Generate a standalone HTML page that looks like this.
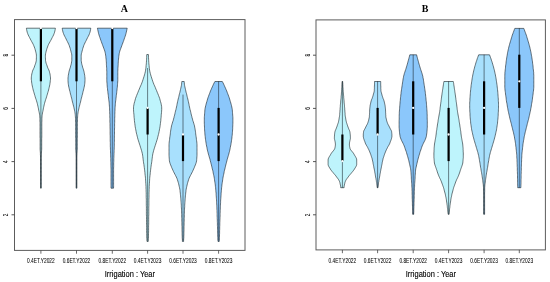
<!DOCTYPE html>
<html><head><meta charset="utf-8"><title>Violin plots</title>
<style>
html,body{margin:0;padding:0;background:#fff;}
svg{display:block;}
.tk{font-family:"Liberation Sans",sans-serif;font-size:6.6px;fill:#000;stroke:#000;stroke-width:0.05px;}
.ax{font-family:"Liberation Sans",sans-serif;font-size:8.3px;fill:#000;stroke:#000;stroke-width:0.12px;}
.ti{font-family:"Liberation Serif",serif;font-weight:bold;font-size:10px;fill:#000;}
</style></head><body>
<svg width="550" height="282" viewBox="0 0 550 282">
<rect width="550" height="282" fill="#fff"/>
<rect x="14.5" y="19.6" width="230.5" height="230.8" fill="#fff" stroke="#5c5c5c" stroke-width="1"/>
<path d="M55.4,28.2 L55.2,29.5 L54.9,30.9 L54.6,32.2 L54.1,33.6 L53.6,34.9 L52.9,36.3 L52.2,37.6 L51.5,39.0 L50.8,40.3 L50.1,41.6 L49.3,43.0 L48.6,44.3 L48.0,45.7 L47.5,47.0 L47.0,48.4 L46.6,49.7 L46.2,51.1 L45.9,52.4 L45.6,53.7 L45.4,55.1 L45.4,56.4 L45.4,57.8 L45.5,59.1 L45.5,60.5 L45.8,61.8 L46.1,63.2 L46.6,64.5 L47.1,65.8 L47.5,67.2 L48.1,68.5 L48.8,69.9 L49.3,71.2 L49.6,72.6 L50.0,73.9 L50.2,75.3 L50.4,76.6 L50.5,77.9 L50.5,79.3 L50.3,80.6 L50.2,82.0 L50.0,83.3 L49.8,84.7 L49.5,86.0 L49.2,87.4 L48.9,88.7 L48.6,90.0 L48.2,91.4 L47.8,92.7 L47.4,94.1 L47.0,95.4 L46.6,96.8 L46.2,98.1 L45.7,99.5 L45.3,100.8 L44.9,102.1 L44.5,103.5 L44.2,104.8 L43.9,106.2 L43.6,107.5 L43.3,108.9 L43.1,110.2 L42.8,111.6 L42.5,112.9 L42.3,114.3 L42.1,115.6 L42.0,116.9 L41.9,118.3 L41.9,119.6 L41.9,121.0 L41.8,122.3 L41.8,123.7 L41.8,125.0 L41.8,126.4 L41.8,127.7 L41.8,129.0 L41.8,130.4 L41.8,131.7 L41.8,133.1 L41.8,134.4 L41.8,135.8 L41.8,137.1 L41.7,138.5 L41.7,139.8 L41.7,141.1 L41.7,142.5 L41.7,143.8 L41.7,145.2 L41.7,146.5 L41.7,147.9 L41.7,149.2 L41.6,150.6 L41.5,151.9 L41.4,153.2 L41.4,154.6 L41.3,155.9 L41.3,157.3 L41.3,158.6 L41.3,160.0 L41.3,161.3 L41.3,162.7 L41.3,164.0 L41.3,165.3 L41.3,166.7 L41.3,168.0 L41.3,169.4 L41.3,170.7 L41.3,172.1 L41.3,173.4 L41.3,174.8 L41.3,176.1 L41.3,177.4 L41.3,178.8 L41.3,180.1 L41.3,181.5 L41.3,182.8 L41.3,184.2 L41.3,185.5 L41.3,186.9 L41.3,188.2 L40.5,188.2 L40.5,186.9 L40.5,185.5 L40.5,184.2 L40.5,182.8 L40.5,181.5 L40.5,180.1 L40.5,178.8 L40.5,177.4 L40.5,176.1 L40.5,174.8 L40.5,173.4 L40.5,172.1 L40.5,170.7 L40.5,169.4 L40.5,168.0 L40.5,166.7 L40.5,165.3 L40.5,164.0 L40.5,162.7 L40.5,161.3 L40.5,160.0 L40.5,158.6 L40.5,157.3 L40.5,155.9 L40.4,154.6 L40.4,153.2 L40.3,151.9 L40.2,150.6 L40.1,149.2 L40.1,147.9 L40.1,146.5 L40.1,145.2 L40.1,143.8 L40.1,142.5 L40.1,141.1 L40.1,139.8 L40.1,138.5 L40.0,137.1 L40.0,135.8 L40.0,134.4 L40.0,133.1 L40.0,131.7 L40.0,130.4 L40.0,129.0 L40.0,127.7 L40.0,126.4 L40.0,125.0 L40.0,123.7 L40.0,122.3 L39.9,121.0 L39.9,119.6 L39.9,118.3 L39.8,116.9 L39.7,115.6 L39.5,114.3 L39.3,112.9 L39.0,111.6 L38.7,110.2 L38.5,108.9 L38.2,107.5 L37.9,106.2 L37.6,104.8 L37.3,103.5 L36.9,102.1 L36.5,100.8 L36.1,99.5 L35.6,98.1 L35.2,96.8 L34.8,95.4 L34.4,94.1 L34.0,92.7 L33.6,91.4 L33.2,90.0 L32.9,88.7 L32.6,87.4 L32.3,86.0 L32.0,84.7 L31.8,83.3 L31.6,82.0 L31.5,80.6 L31.3,79.3 L31.3,77.9 L31.4,76.6 L31.6,75.3 L31.8,73.9 L32.2,72.6 L32.5,71.2 L33.0,69.9 L33.7,68.5 L34.3,67.2 L34.7,65.8 L35.2,64.5 L35.7,63.2 L36.0,61.8 L36.3,60.5 L36.3,59.1 L36.4,57.8 L36.4,56.4 L36.4,55.1 L36.2,53.7 L35.9,52.4 L35.6,51.1 L35.2,49.7 L34.8,48.4 L34.3,47.0 L33.8,45.7 L33.2,44.3 L32.5,43.0 L31.7,41.6 L31.0,40.3 L30.3,39.0 L29.6,37.6 L28.9,36.3 L28.2,34.9 L27.7,33.6 L27.2,32.2 L26.9,30.9 L26.6,29.5 L26.4,28.2Z" fill="#BEF4FC" stroke="#141c22" stroke-width="0.6" stroke-linejoin="round"/>
<line x1="40.9" x2="40.9" y1="28.1" y2="187.7" stroke="#141c22" stroke-width="0.55"/>
<rect x="39.80" y="28.1" width="2.2" height="53.2" fill="#000"/>
<circle cx="40.9" cy="28.1" r="1.15" fill="#fff"/>
<path d="M90.8,28.2 L90.6,29.5 L90.3,30.9 L90.0,32.2 L89.5,33.6 L89.0,34.9 L88.3,36.3 L87.6,37.6 L86.9,39.0 L86.3,40.3 L85.6,41.6 L84.9,43.0 L84.3,44.3 L83.7,45.7 L83.3,47.0 L82.8,48.4 L82.5,49.7 L82.1,51.1 L81.8,52.4 L81.4,53.7 L81.2,55.1 L81.2,56.4 L81.2,57.8 L81.2,59.1 L81.2,60.5 L81.4,61.8 L81.6,63.2 L81.9,64.5 L82.3,65.8 L82.6,67.2 L83.1,68.5 L83.5,69.9 L83.9,71.2 L84.2,72.6 L84.4,73.9 L84.7,75.3 L84.8,76.6 L85.0,77.9 L85.0,79.3 L85.0,80.6 L84.9,82.0 L84.8,83.3 L84.6,84.7 L84.4,86.0 L84.1,87.4 L83.8,88.7 L83.5,90.0 L83.1,91.4 L82.8,92.7 L82.5,94.1 L82.1,95.4 L81.8,96.8 L81.4,98.1 L81.1,99.5 L80.8,100.8 L80.5,102.1 L80.1,103.5 L79.8,104.8 L79.4,106.2 L79.1,107.5 L78.8,108.9 L78.5,110.2 L78.2,111.6 L78.0,112.9 L77.8,114.3 L77.7,115.6 L77.6,116.9 L77.5,118.3 L77.5,119.6 L77.5,121.0 L77.4,122.3 L77.4,123.7 L77.4,125.0 L77.4,126.4 L77.4,127.7 L77.4,129.0 L77.4,130.4 L77.4,131.7 L77.4,133.1 L77.4,134.4 L77.4,135.8 L77.4,137.1 L77.3,138.5 L77.3,139.8 L77.3,141.1 L77.3,142.5 L77.3,143.8 L77.3,145.2 L77.3,146.5 L77.3,147.9 L77.3,149.2 L77.2,150.6 L77.1,151.9 L77.0,153.2 L77.0,154.6 L76.9,155.9 L76.9,157.3 L76.9,158.6 L76.9,160.0 L76.9,161.3 L76.9,162.7 L76.9,164.0 L76.9,165.3 L76.9,166.7 L76.9,168.0 L76.9,169.4 L76.9,170.7 L76.9,172.1 L76.9,173.4 L76.9,174.8 L76.9,176.1 L76.9,177.4 L76.9,178.8 L76.9,180.1 L76.9,181.5 L76.9,182.8 L76.9,184.2 L76.9,185.5 L76.9,186.9 L76.9,188.2 L76.1,188.2 L76.1,186.9 L76.1,185.5 L76.1,184.2 L76.1,182.8 L76.1,181.5 L76.1,180.1 L76.1,178.8 L76.1,177.4 L76.1,176.1 L76.1,174.8 L76.1,173.4 L76.1,172.1 L76.1,170.7 L76.1,169.4 L76.1,168.0 L76.1,166.7 L76.1,165.3 L76.1,164.0 L76.1,162.7 L76.1,161.3 L76.1,160.0 L76.1,158.6 L76.1,157.3 L76.1,155.9 L76.0,154.6 L76.0,153.2 L75.9,151.9 L75.8,150.6 L75.7,149.2 L75.7,147.9 L75.7,146.5 L75.7,145.2 L75.7,143.8 L75.7,142.5 L75.7,141.1 L75.7,139.8 L75.7,138.5 L75.6,137.1 L75.6,135.8 L75.6,134.4 L75.6,133.1 L75.6,131.7 L75.6,130.4 L75.6,129.0 L75.6,127.7 L75.6,126.4 L75.6,125.0 L75.6,123.7 L75.6,122.3 L75.5,121.0 L75.5,119.6 L75.5,118.3 L75.4,116.9 L75.3,115.6 L75.2,114.3 L75.0,112.9 L74.8,111.6 L74.5,110.2 L74.2,108.9 L73.9,107.5 L73.6,106.2 L73.2,104.8 L72.9,103.5 L72.5,102.1 L72.2,100.8 L71.9,99.5 L71.6,98.1 L71.2,96.8 L70.9,95.4 L70.5,94.1 L70.2,92.7 L69.9,91.4 L69.5,90.0 L69.2,88.7 L68.9,87.4 L68.6,86.0 L68.4,84.7 L68.2,83.3 L68.1,82.0 L68.0,80.6 L68.0,79.3 L68.0,77.9 L68.2,76.6 L68.3,75.3 L68.6,73.9 L68.8,72.6 L69.1,71.2 L69.5,69.9 L69.9,68.5 L70.4,67.2 L70.7,65.8 L71.1,64.5 L71.4,63.2 L71.6,61.8 L71.8,60.5 L71.8,59.1 L71.8,57.8 L71.8,56.4 L71.8,55.1 L71.6,53.7 L71.2,52.4 L70.9,51.1 L70.5,49.7 L70.2,48.4 L69.7,47.0 L69.3,45.7 L68.7,44.3 L68.1,43.0 L67.4,41.6 L66.7,40.3 L66.1,39.0 L65.4,37.6 L64.7,36.3 L64.0,34.9 L63.5,33.6 L63.0,32.2 L62.7,30.9 L62.4,29.5 L62.2,28.2Z" fill="#A8E0FD" stroke="#141c22" stroke-width="0.6" stroke-linejoin="round"/>
<line x1="76.5" x2="76.5" y1="28.1" y2="187.7" stroke="#141c22" stroke-width="0.55"/>
<rect x="75.40" y="28.1" width="2.2" height="53.2" fill="#000"/>
<circle cx="76.5" cy="28.1" r="1.15" fill="#fff"/>
<path d="M127.2,28.2 L126.9,29.5 L126.6,30.9 L126.3,32.2 L126.0,33.6 L125.6,34.9 L125.2,36.3 L124.7,37.6 L124.2,39.0 L123.8,40.3 L123.3,41.6 L122.8,43.0 L122.3,44.3 L121.8,45.7 L121.3,47.0 L120.8,48.4 L120.3,49.7 L119.8,51.1 L119.5,52.4 L119.2,53.7 L119.0,55.1 L118.8,56.4 L118.7,57.8 L118.5,59.1 L118.4,60.5 L118.3,61.8 L118.2,63.2 L118.2,64.5 L118.1,65.8 L118.0,67.2 L117.9,68.5 L117.9,69.9 L117.8,71.2 L117.8,72.6 L117.8,73.9 L117.8,75.3 L117.8,76.6 L117.8,77.9 L117.8,79.3 L117.8,80.6 L117.7,82.0 L117.6,83.3 L117.5,84.7 L117.4,86.0 L117.3,87.4 L117.1,88.7 L117.0,90.0 L116.8,91.4 L116.7,92.7 L116.5,94.1 L116.3,95.4 L116.2,96.8 L116.0,98.1 L115.9,99.5 L115.7,100.8 L115.5,102.1 L115.4,103.5 L115.3,104.8 L115.2,106.2 L115.1,107.5 L115.0,108.9 L115.0,110.2 L114.9,111.6 L114.9,112.9 L114.8,114.3 L114.8,115.6 L114.8,116.9 L114.7,118.3 L114.7,119.6 L114.7,121.0 L114.7,122.3 L114.6,123.7 L114.6,125.0 L114.6,126.4 L114.6,127.7 L114.5,129.0 L114.5,130.4 L114.5,131.7 L114.5,133.1 L114.5,134.4 L114.4,135.8 L114.4,137.1 L114.4,138.5 L114.4,139.8 L114.4,141.1 L114.3,142.5 L114.3,143.8 L114.3,145.2 L114.3,146.5 L114.2,147.9 L114.2,149.2 L114.1,150.6 L114.1,151.9 L114.0,153.2 L114.0,154.6 L113.9,155.9 L113.9,157.3 L113.8,158.6 L113.8,160.0 L113.8,161.3 L113.7,162.7 L113.7,164.0 L113.7,165.3 L113.7,166.7 L113.6,168.0 L113.6,169.4 L113.6,170.7 L113.6,172.1 L113.6,173.4 L113.6,174.8 L113.6,176.1 L113.6,177.4 L113.6,178.8 L113.6,180.1 L113.6,181.5 L113.6,182.8 L113.6,184.2 L113.6,185.5 L113.6,186.9 L113.5,188.2 L111.0,188.2 L111.0,186.9 L111.0,185.5 L111.0,184.2 L111.0,182.8 L111.0,181.5 L111.0,180.1 L111.0,178.8 L111.0,177.4 L111.0,176.1 L111.0,174.8 L111.0,173.4 L111.0,172.1 L111.0,170.7 L111.0,169.4 L111.0,168.0 L110.9,166.7 L110.9,165.3 L110.9,164.0 L110.9,162.7 L110.8,161.3 L110.8,160.0 L110.8,158.6 L110.7,157.3 L110.7,155.9 L110.6,154.6 L110.6,153.2 L110.5,151.9 L110.5,150.6 L110.4,149.2 L110.4,147.9 L110.3,146.5 L110.3,145.2 L110.3,143.8 L110.3,142.5 L110.2,141.1 L110.2,139.8 L110.2,138.5 L110.2,137.1 L110.2,135.8 L110.1,134.4 L110.1,133.1 L110.1,131.7 L110.1,130.4 L110.1,129.0 L110.0,127.7 L110.0,126.4 L110.0,125.0 L110.0,123.7 L109.9,122.3 L109.9,121.0 L109.9,119.6 L109.9,118.3 L109.8,116.9 L109.8,115.6 L109.8,114.3 L109.7,112.9 L109.7,111.6 L109.6,110.2 L109.6,108.9 L109.5,107.5 L109.4,106.2 L109.3,104.8 L109.2,103.5 L109.1,102.1 L108.9,100.8 L108.7,99.5 L108.6,98.1 L108.4,96.8 L108.3,95.4 L108.1,94.1 L107.9,92.7 L107.8,91.4 L107.6,90.0 L107.5,88.7 L107.3,87.4 L107.2,86.0 L107.1,84.7 L107.0,83.3 L106.9,82.0 L106.8,80.6 L106.8,79.3 L106.8,77.9 L106.8,76.6 L106.8,75.3 L106.8,73.9 L106.8,72.6 L106.8,71.2 L106.7,69.9 L106.7,68.5 L106.6,67.2 L106.5,65.8 L106.4,64.5 L106.4,63.2 L106.3,61.8 L106.2,60.5 L106.1,59.1 L105.9,57.8 L105.8,56.4 L105.6,55.1 L105.4,53.7 L105.1,52.4 L104.8,51.1 L104.3,49.7 L103.8,48.4 L103.3,47.0 L102.8,45.7 L102.3,44.3 L101.8,43.0 L101.3,41.6 L100.8,40.3 L100.4,39.0 L99.9,37.6 L99.4,36.3 L99.0,34.9 L98.6,33.6 L98.3,32.2 L98.0,30.9 L97.7,29.5 L97.4,28.2Z" fill="#8BC7FB" stroke="#141c22" stroke-width="0.6" stroke-linejoin="round"/>
<line x1="112.3" x2="112.3" y1="28.1" y2="187.7" stroke="#141c22" stroke-width="0.55"/>
<rect x="111.20" y="28.1" width="2.2" height="53.2" fill="#000"/>
<circle cx="112.3" cy="28.1" r="1.15" fill="#fff"/>
<path d="M148.4,54.5 L148.5,56.1 L148.5,57.6 L148.6,59.2 L148.7,60.8 L148.8,62.4 L148.9,63.9 L149.1,65.5 L149.2,67.1 L149.4,68.6 L149.6,70.2 L149.9,71.8 L150.3,73.4 L150.7,74.9 L151.2,76.5 L151.7,78.1 L152.2,79.6 L152.7,81.2 L153.3,82.8 L153.9,84.4 L154.6,85.9 L155.3,87.5 L155.9,89.1 L156.6,90.6 L157.2,92.2 L157.9,93.8 L158.5,95.4 L159.1,96.9 L159.7,98.5 L160.1,100.1 L160.5,101.6 L161.0,103.2 L161.3,104.8 L161.6,106.4 L161.7,107.9 L161.7,109.5 L161.6,111.1 L161.5,112.6 L161.3,114.2 L161.2,115.8 L161.1,117.4 L160.9,118.9 L160.8,120.5 L160.6,122.1 L160.4,123.6 L160.2,125.2 L160.0,126.8 L159.7,128.4 L159.4,129.9 L159.1,131.5 L158.8,133.1 L158.4,134.6 L158.0,136.2 L157.6,137.8 L157.2,139.4 L156.7,140.9 L156.2,142.5 L155.7,144.1 L155.2,145.6 L154.7,147.2 L154.2,148.8 L153.7,150.4 L153.3,151.9 L152.9,153.5 L152.6,155.1 L152.4,156.6 L152.2,158.2 L152.0,159.8 L151.8,161.4 L151.6,162.9 L151.3,164.5 L151.1,166.1 L150.9,167.6 L150.7,169.2 L150.5,170.8 L150.3,172.4 L150.2,173.9 L150.0,175.5 L149.8,177.1 L149.7,178.6 L149.6,180.2 L149.5,181.8 L149.4,183.4 L149.3,184.9 L149.2,186.5 L149.2,188.1 L149.1,189.6 L149.1,191.2 L149.0,192.8 L149.0,194.4 L149.0,195.9 L149.0,197.5 L148.9,199.1 L148.9,200.6 L148.9,202.2 L148.9,203.8 L148.9,205.4 L148.8,206.9 L148.8,208.5 L148.8,210.1 L148.8,211.6 L148.8,213.2 L148.8,214.8 L148.7,216.4 L148.7,217.9 L148.7,219.5 L148.7,221.1 L148.7,222.6 L148.7,224.2 L148.6,225.8 L148.6,227.4 L148.6,228.9 L148.6,230.5 L148.6,232.1 L148.5,233.6 L148.5,235.2 L148.5,236.8 L148.4,238.4 L148.3,239.9 L148.2,241.5 L147.0,241.5 L146.9,239.9 L146.8,238.4 L146.7,236.8 L146.7,235.2 L146.7,233.6 L146.6,232.1 L146.6,230.5 L146.6,228.9 L146.6,227.4 L146.6,225.8 L146.5,224.2 L146.5,222.6 L146.5,221.1 L146.5,219.5 L146.5,217.9 L146.5,216.4 L146.4,214.8 L146.4,213.2 L146.4,211.6 L146.4,210.1 L146.4,208.5 L146.4,206.9 L146.3,205.4 L146.3,203.8 L146.3,202.2 L146.3,200.6 L146.3,199.1 L146.2,197.5 L146.2,195.9 L146.2,194.4 L146.2,192.8 L146.1,191.2 L146.1,189.6 L146.0,188.1 L146.0,186.5 L145.9,184.9 L145.8,183.4 L145.7,181.8 L145.6,180.2 L145.5,178.6 L145.4,177.1 L145.2,175.5 L145.0,173.9 L144.9,172.4 L144.7,170.8 L144.5,169.2 L144.3,167.6 L144.1,166.1 L143.9,164.5 L143.6,162.9 L143.4,161.4 L143.2,159.8 L143.0,158.2 L142.8,156.6 L142.6,155.1 L142.3,153.5 L141.9,151.9 L141.5,150.4 L141.0,148.8 L140.5,147.2 L140.0,145.6 L139.5,144.1 L139.0,142.5 L138.5,140.9 L138.0,139.4 L137.6,137.8 L137.2,136.2 L136.8,134.6 L136.4,133.1 L136.1,131.5 L135.8,129.9 L135.5,128.4 L135.2,126.8 L135.0,125.2 L134.8,123.6 L134.6,122.1 L134.4,120.5 L134.3,118.9 L134.1,117.4 L134.0,115.8 L133.9,114.2 L133.7,112.6 L133.6,111.1 L133.5,109.5 L133.5,107.9 L133.6,106.4 L133.9,104.8 L134.2,103.2 L134.7,101.6 L135.1,100.1 L135.5,98.5 L136.1,96.9 L136.7,95.4 L137.3,93.8 L138.0,92.2 L138.6,90.6 L139.3,89.1 L139.9,87.5 L140.6,85.9 L141.3,84.4 L141.9,82.8 L142.5,81.2 L143.0,79.6 L143.5,78.1 L144.0,76.5 L144.5,74.9 L144.9,73.4 L145.3,71.8 L145.6,70.2 L145.8,68.6 L146.0,67.1 L146.1,65.5 L146.3,63.9 L146.4,62.4 L146.5,60.8 L146.6,59.2 L146.7,57.6 L146.7,56.1 L146.8,54.5Z" fill="#BEF4FC" stroke="#141c22" stroke-width="0.6" stroke-linejoin="round"/>
<line x1="147.6" x2="147.6" y1="68.0" y2="240.9" stroke="#141c22" stroke-width="0.55"/>
<rect x="146.50" y="107.9" width="2.2" height="26.6" fill="#000"/>
<circle cx="147.6" cy="107.9" r="1.15" fill="#fff"/>
<path d="M184.2,81.5 L184.3,82.8 L184.4,84.2 L184.6,85.5 L184.9,86.9 L185.2,88.2 L185.5,89.6 L185.8,90.9 L186.1,92.3 L186.5,93.6 L186.8,94.9 L187.1,96.3 L187.4,97.6 L187.8,99.0 L188.1,100.3 L188.4,101.7 L188.7,103.0 L189.0,104.4 L189.2,105.7 L189.5,107.0 L189.8,108.4 L190.1,109.7 L190.5,111.1 L190.8,112.4 L191.1,113.8 L191.4,115.1 L191.8,116.5 L192.1,117.8 L192.5,119.1 L192.8,120.5 L193.3,121.8 L193.7,123.2 L194.1,124.5 L194.5,125.9 L194.7,127.2 L195.0,128.6 L195.2,129.9 L195.4,131.2 L195.6,132.6 L195.7,133.9 L195.9,135.3 L196.1,136.6 L196.3,138.0 L196.4,139.3 L196.6,140.7 L196.8,142.0 L196.9,143.3 L197.0,144.7 L197.0,146.0 L197.0,147.4 L197.0,148.7 L197.0,150.1 L197.0,151.4 L197.0,152.8 L197.0,154.1 L197.0,155.4 L196.9,156.8 L196.8,158.1 L196.7,159.5 L196.6,160.8 L196.3,162.2 L195.9,163.5 L195.4,164.9 L194.8,166.2 L194.3,167.6 L193.7,168.9 L193.1,170.2 L192.5,171.6 L191.8,172.9 L191.1,174.3 L190.4,175.6 L189.7,177.0 L189.1,178.3 L188.6,179.7 L188.2,181.0 L187.8,182.3 L187.4,183.7 L187.1,185.0 L186.8,186.4 L186.5,187.7 L186.2,189.1 L186.0,190.4 L185.9,191.8 L185.7,193.1 L185.6,194.4 L185.4,195.8 L185.3,197.1 L185.2,198.5 L185.1,199.8 L185.0,201.2 L184.9,202.5 L184.8,203.9 L184.7,205.2 L184.7,206.5 L184.6,207.9 L184.5,209.2 L184.5,210.6 L184.4,211.9 L184.4,213.3 L184.3,214.6 L184.3,216.0 L184.3,217.3 L184.2,218.6 L184.2,220.0 L184.2,221.3 L184.1,222.7 L184.1,224.0 L184.1,225.4 L184.0,226.7 L184.0,228.1 L184.0,229.4 L184.0,230.7 L183.9,232.1 L183.9,233.4 L183.9,234.8 L183.8,236.1 L183.8,237.5 L183.7,238.8 L183.6,240.2 L183.6,241.5 L182.4,241.5 L182.4,240.2 L182.3,238.8 L182.2,237.5 L182.2,236.1 L182.1,234.8 L182.1,233.4 L182.1,232.1 L182.0,230.7 L182.0,229.4 L182.0,228.1 L182.0,226.7 L181.9,225.4 L181.9,224.0 L181.9,222.7 L181.8,221.3 L181.8,220.0 L181.8,218.6 L181.7,217.3 L181.7,216.0 L181.7,214.6 L181.6,213.3 L181.6,211.9 L181.5,210.6 L181.5,209.2 L181.4,207.9 L181.3,206.5 L181.3,205.2 L181.2,203.9 L181.1,202.5 L181.0,201.2 L180.9,199.8 L180.8,198.5 L180.7,197.1 L180.6,195.8 L180.4,194.4 L180.3,193.1 L180.1,191.8 L180.0,190.4 L179.8,189.1 L179.5,187.7 L179.2,186.4 L178.9,185.0 L178.6,183.7 L178.2,182.3 L177.8,181.0 L177.4,179.7 L176.9,178.3 L176.3,177.0 L175.6,175.6 L174.9,174.3 L174.2,172.9 L173.5,171.6 L172.9,170.2 L172.3,168.9 L171.7,167.6 L171.2,166.2 L170.6,164.9 L170.1,163.5 L169.7,162.2 L169.4,160.8 L169.3,159.5 L169.2,158.1 L169.1,156.8 L169.0,155.4 L169.0,154.1 L169.0,152.8 L169.0,151.4 L169.0,150.1 L169.0,148.7 L169.0,147.4 L169.0,146.0 L169.0,144.7 L169.1,143.3 L169.2,142.0 L169.4,140.7 L169.6,139.3 L169.7,138.0 L169.9,136.6 L170.1,135.3 L170.3,133.9 L170.4,132.6 L170.6,131.2 L170.8,129.9 L171.0,128.6 L171.3,127.2 L171.5,125.9 L171.9,124.5 L172.3,123.2 L172.7,121.8 L173.2,120.5 L173.5,119.1 L173.9,117.8 L174.2,116.5 L174.6,115.1 L174.9,113.8 L175.2,112.4 L175.5,111.1 L175.9,109.7 L176.2,108.4 L176.5,107.0 L176.8,105.7 L177.0,104.4 L177.3,103.0 L177.6,101.7 L177.9,100.3 L178.2,99.0 L178.6,97.6 L178.9,96.3 L179.2,94.9 L179.5,93.6 L179.9,92.3 L180.2,90.9 L180.5,89.6 L180.8,88.2 L181.1,86.9 L181.4,85.5 L181.6,84.2 L181.7,82.8 L181.8,81.5Z" fill="#A8E0FD" stroke="#141c22" stroke-width="0.6" stroke-linejoin="round"/>
<line x1="183.0" x2="183.0" y1="94.6" y2="240.9" stroke="#141c22" stroke-width="0.55"/>
<rect x="181.90" y="134.5" width="2.2" height="26.6" fill="#000"/>
<circle cx="183.0" cy="134.5" r="1.15" fill="#fff"/>
<path d="M222.3,81.5 L223.0,82.8 L223.7,84.2 L224.3,85.5 L224.9,86.9 L225.5,88.2 L226.1,89.6 L226.7,90.9 L227.2,92.3 L227.7,93.6 L228.2,94.9 L228.7,96.3 L229.2,97.6 L229.6,99.0 L230.0,100.3 L230.4,101.7 L230.8,103.0 L231.2,104.4 L231.5,105.7 L231.8,107.0 L232.1,108.4 L232.3,109.7 L232.4,111.1 L232.5,112.4 L232.6,113.8 L232.7,115.1 L232.8,116.5 L232.9,117.8 L232.9,119.1 L232.9,120.5 L232.9,121.8 L232.9,123.2 L232.8,124.5 L232.8,125.9 L232.7,127.2 L232.7,128.6 L232.6,129.9 L232.5,131.2 L232.4,132.6 L232.3,133.9 L232.2,135.3 L232.0,136.6 L231.9,138.0 L231.7,139.3 L231.5,140.7 L231.3,142.0 L231.1,143.3 L230.9,144.7 L230.6,146.0 L230.3,147.4 L230.1,148.7 L229.8,150.1 L229.5,151.4 L229.1,152.8 L228.8,154.1 L228.4,155.4 L228.0,156.8 L227.6,158.1 L227.2,159.5 L226.9,160.8 L226.5,162.2 L226.2,163.5 L225.8,164.9 L225.5,166.2 L225.2,167.6 L224.9,168.9 L224.5,170.2 L224.2,171.6 L224.0,172.9 L223.7,174.3 L223.4,175.6 L223.1,177.0 L222.9,178.3 L222.7,179.7 L222.5,181.0 L222.3,182.3 L222.1,183.7 L221.9,185.0 L221.8,186.4 L221.6,187.7 L221.5,189.1 L221.4,190.4 L221.3,191.8 L221.1,193.1 L221.1,194.4 L221.0,195.8 L220.9,197.1 L220.8,198.5 L220.7,199.8 L220.6,201.2 L220.6,202.5 L220.5,203.9 L220.4,205.2 L220.4,206.5 L220.3,207.9 L220.3,209.2 L220.2,210.6 L220.2,211.9 L220.1,213.3 L220.1,214.6 L220.1,216.0 L220.0,217.3 L220.0,218.6 L219.9,220.0 L219.9,221.3 L219.8,222.7 L219.8,224.0 L219.8,225.4 L219.7,226.7 L219.7,228.1 L219.7,229.4 L219.6,230.7 L219.6,232.1 L219.6,233.4 L219.5,234.8 L219.5,236.1 L219.4,237.5 L219.4,238.8 L219.3,240.2 L219.2,241.5 L218.0,241.5 L217.9,240.2 L217.8,238.8 L217.8,237.5 L217.7,236.1 L217.7,234.8 L217.6,233.4 L217.6,232.1 L217.6,230.7 L217.5,229.4 L217.5,228.1 L217.5,226.7 L217.4,225.4 L217.4,224.0 L217.4,222.7 L217.3,221.3 L217.3,220.0 L217.2,218.6 L217.2,217.3 L217.1,216.0 L217.1,214.6 L217.1,213.3 L217.0,211.9 L217.0,210.6 L216.9,209.2 L216.9,207.9 L216.8,206.5 L216.8,205.2 L216.7,203.9 L216.6,202.5 L216.6,201.2 L216.5,199.8 L216.4,198.5 L216.3,197.1 L216.2,195.8 L216.1,194.4 L216.1,193.1 L215.9,191.8 L215.8,190.4 L215.7,189.1 L215.6,187.7 L215.4,186.4 L215.3,185.0 L215.1,183.7 L214.9,182.3 L214.7,181.0 L214.5,179.7 L214.3,178.3 L214.1,177.0 L213.8,175.6 L213.5,174.3 L213.2,172.9 L213.0,171.6 L212.7,170.2 L212.3,168.9 L212.0,167.6 L211.7,166.2 L211.4,164.9 L211.0,163.5 L210.7,162.2 L210.3,160.8 L210.0,159.5 L209.6,158.1 L209.2,156.8 L208.8,155.4 L208.4,154.1 L208.1,152.8 L207.7,151.4 L207.4,150.1 L207.1,148.7 L206.9,147.4 L206.6,146.0 L206.3,144.7 L206.1,143.3 L205.9,142.0 L205.7,140.7 L205.5,139.3 L205.3,138.0 L205.2,136.6 L205.0,135.3 L204.9,133.9 L204.8,132.6 L204.7,131.2 L204.6,129.9 L204.5,128.6 L204.5,127.2 L204.4,125.9 L204.4,124.5 L204.3,123.2 L204.3,121.8 L204.3,120.5 L204.3,119.1 L204.3,117.8 L204.4,116.5 L204.5,115.1 L204.6,113.8 L204.7,112.4 L204.8,111.1 L204.9,109.7 L205.1,108.4 L205.4,107.0 L205.7,105.7 L206.0,104.4 L206.4,103.0 L206.8,101.7 L207.2,100.3 L207.6,99.0 L208.0,97.6 L208.5,96.3 L209.0,94.9 L209.5,93.6 L210.0,92.3 L210.5,90.9 L211.1,89.6 L211.7,88.2 L212.3,86.9 L212.9,85.5 L213.5,84.2 L214.2,82.8 L214.9,81.5Z" fill="#8BC7FB" stroke="#141c22" stroke-width="0.6" stroke-linejoin="round"/>
<line x1="218.6" x2="218.6" y1="81.3" y2="240.9" stroke="#141c22" stroke-width="0.55"/>
<rect x="217.50" y="107.9" width="2.2" height="53.2" fill="#000"/>
<circle cx="218.6" cy="134.5" r="1.15" fill="#fff"/>
<line x1="11.5" x2="14.5" y1="214.8" y2="214.8" stroke="#444" stroke-width="0.9"/>
<text class="tk" transform="translate(8.0,214.9) rotate(-90) scale(0.72,1.08)" text-anchor="middle">2</text>
<line x1="11.5" x2="14.5" y1="161.6" y2="161.6" stroke="#444" stroke-width="0.9"/>
<text class="tk" transform="translate(8.0,161.7) rotate(-90) scale(0.72,1.08)" text-anchor="middle">4</text>
<line x1="11.5" x2="14.5" y1="108.4" y2="108.4" stroke="#444" stroke-width="0.9"/>
<text class="tk" transform="translate(8.0,108.5) rotate(-90) scale(0.72,1.08)" text-anchor="middle">6</text>
<line x1="11.5" x2="14.5" y1="55.2" y2="55.2" stroke="#444" stroke-width="0.9"/>
<text class="tk" transform="translate(8.0,55.3) rotate(-90) scale(0.72,1.08)" text-anchor="middle">8</text>
<line x1="40.9" x2="40.9" y1="250.4" y2="253.7" stroke="#444" stroke-width="0.8"/>
<text class="tk" x="27.1" y="263.0" textLength="27.6" lengthAdjust="spacingAndGlyphs">0.4ET.Y2022</text>
<line x1="76.5" x2="76.5" y1="250.4" y2="253.7" stroke="#444" stroke-width="0.8"/>
<text class="tk" x="62.7" y="263.0" textLength="27.6" lengthAdjust="spacingAndGlyphs">0.6ET.Y2022</text>
<line x1="112.3" x2="112.3" y1="250.4" y2="253.7" stroke="#444" stroke-width="0.8"/>
<text class="tk" x="98.5" y="263.0" textLength="27.6" lengthAdjust="spacingAndGlyphs">0.8ET.Y2022</text>
<line x1="147.6" x2="147.6" y1="250.4" y2="253.7" stroke="#444" stroke-width="0.8"/>
<text class="tk" x="133.8" y="263.0" textLength="27.6" lengthAdjust="spacingAndGlyphs">0.4ET.Y2023</text>
<line x1="183.0" x2="183.0" y1="250.4" y2="253.7" stroke="#444" stroke-width="0.8"/>
<text class="tk" x="169.2" y="263.0" textLength="27.6" lengthAdjust="spacingAndGlyphs">0.6ET.Y2023</text>
<line x1="218.6" x2="218.6" y1="250.4" y2="253.7" stroke="#444" stroke-width="0.8"/>
<text class="tk" x="204.8" y="263.0" textLength="27.6" lengthAdjust="spacingAndGlyphs">0.8ET.Y2023</text>
<text class="ax" x="104.8" y="276.6" textLength="50.2" lengthAdjust="spacingAndGlyphs">Irrigation : Year</text>
<text class="ti" x="124.3" y="12.1" text-anchor="middle">A</text>
<rect x="316.0" y="19.9" width="229.39999999999998" height="230.0" fill="#fff" stroke="#5c5c5c" stroke-width="1"/>
<path d="M342.7,81.5 L342.7,82.4 L342.8,83.3 L342.8,84.2 L342.9,85.1 L342.9,86.0 L342.9,86.9 L343.0,87.7 L343.1,88.6 L343.1,89.5 L343.2,90.4 L343.2,91.3 L343.3,92.2 L343.4,93.1 L343.4,94.0 L343.5,94.9 L343.6,95.8 L343.7,96.7 L343.7,97.6 L343.8,98.5 L343.9,99.3 L344.0,100.2 L344.1,101.1 L344.1,102.0 L344.2,102.9 L344.3,103.8 L344.4,104.7 L344.5,105.6 L344.5,106.5 L344.6,107.4 L344.7,108.3 L344.7,109.2 L344.8,110.1 L344.9,111.0 L344.9,111.8 L345.0,112.7 L345.1,113.6 L345.1,114.5 L345.2,115.4 L345.3,116.3 L345.5,117.2 L345.6,118.1 L345.8,119.0 L345.9,119.9 L346.1,120.8 L346.3,121.7 L346.5,122.6 L346.8,123.4 L347.1,124.3 L347.4,125.2 L347.7,126.1 L348.0,127.0 L348.4,127.9 L348.7,128.8 L349.1,129.7 L349.5,130.6 L349.8,131.5 L350.0,132.4 L350.1,133.3 L350.2,134.2 L350.3,135.0 L350.3,135.9 L350.4,136.8 L350.4,137.7 L350.4,138.6 L350.2,139.5 L350.0,140.4 L349.8,141.3 L349.6,142.2 L349.5,143.1 L349.4,144.0 L349.4,144.9 L349.5,145.8 L349.6,146.6 L349.8,147.5 L350.0,148.4 L350.4,149.3 L351.0,150.2 L351.7,151.1 L352.5,152.0 L353.2,152.9 L353.8,153.8 L354.3,154.7 L354.8,155.6 L355.4,156.5 L355.9,157.4 L356.3,158.2 L356.6,159.1 L356.7,160.0 L356.7,160.9 L356.7,161.8 L356.7,162.7 L356.7,163.6 L356.7,164.5 L356.5,165.4 L356.1,166.3 L355.6,167.2 L355.0,168.1 L354.5,169.0 L353.9,169.9 L353.3,170.7 L352.6,171.6 L351.8,172.5 L351.1,173.4 L350.3,174.3 L349.5,175.2 L348.8,176.1 L348.2,177.0 L347.5,177.9 L346.8,178.8 L346.2,179.7 L345.7,180.6 L345.3,181.5 L345.0,182.3 L344.8,183.2 L344.6,184.1 L344.4,185.0 L344.2,185.9 L344.1,186.8 L344.1,187.7 L340.7,187.7 L340.7,186.8 L340.6,185.9 L340.4,185.0 L340.2,184.1 L340.0,183.2 L339.8,182.3 L339.5,181.5 L339.1,180.6 L338.6,179.7 L338.0,178.8 L337.3,177.9 L336.6,177.0 L336.0,176.1 L335.3,175.2 L334.5,174.3 L333.7,173.4 L333.0,172.5 L332.2,171.6 L331.5,170.7 L330.9,169.9 L330.3,169.0 L329.8,168.1 L329.2,167.2 L328.7,166.3 L328.3,165.4 L328.1,164.5 L328.1,163.6 L328.1,162.7 L328.1,161.8 L328.1,160.9 L328.1,160.0 L328.2,159.1 L328.5,158.2 L328.9,157.4 L329.4,156.5 L330.0,155.6 L330.5,154.7 L331.0,153.8 L331.6,152.9 L332.3,152.0 L333.1,151.1 L333.8,150.2 L334.4,149.3 L334.8,148.4 L335.0,147.5 L335.2,146.6 L335.3,145.8 L335.4,144.9 L335.4,144.0 L335.3,143.1 L335.2,142.2 L335.0,141.3 L334.8,140.4 L334.6,139.5 L334.4,138.6 L334.4,137.7 L334.4,136.8 L334.5,135.9 L334.5,135.0 L334.6,134.2 L334.7,133.3 L334.8,132.4 L335.0,131.5 L335.3,130.6 L335.7,129.7 L336.1,128.8 L336.4,127.9 L336.8,127.0 L337.1,126.1 L337.4,125.2 L337.7,124.3 L338.0,123.4 L338.3,122.6 L338.5,121.7 L338.7,120.8 L338.9,119.9 L339.0,119.0 L339.2,118.1 L339.3,117.2 L339.5,116.3 L339.6,115.4 L339.7,114.5 L339.7,113.6 L339.8,112.7 L339.9,111.8 L339.9,111.0 L340.0,110.1 L340.1,109.2 L340.1,108.3 L340.2,107.4 L340.3,106.5 L340.3,105.6 L340.4,104.7 L340.5,103.8 L340.6,102.9 L340.7,102.0 L340.7,101.1 L340.8,100.2 L340.9,99.3 L341.0,98.5 L341.1,97.6 L341.1,96.7 L341.2,95.8 L341.3,94.9 L341.4,94.0 L341.4,93.1 L341.5,92.2 L341.6,91.3 L341.6,90.4 L341.7,89.5 L341.7,88.6 L341.8,87.7 L341.9,86.9 L341.9,86.0 L341.9,85.1 L342.0,84.2 L342.0,83.3 L342.1,82.4 L342.1,81.5Z" fill="#BEF4FC" stroke="#141c22" stroke-width="0.6" stroke-linejoin="round"/>
<line x1="342.4" x2="342.4" y1="81.3" y2="187.7" stroke="#141c22" stroke-width="0.55"/>
<rect x="341.30" y="134.5" width="2.2" height="26.6" fill="#000"/>
<circle cx="342.4" cy="161.1" r="1.15" fill="#fff"/>
<path d="M380.7,81.5 L380.7,82.4 L380.7,83.3 L380.7,84.2 L380.7,85.1 L380.8,86.0 L380.8,86.9 L380.8,87.7 L380.8,88.6 L380.9,89.5 L380.9,90.4 L381.0,91.3 L381.2,92.2 L381.5,93.1 L381.7,94.0 L382.0,94.9 L382.2,95.8 L382.5,96.7 L382.8,97.6 L383.1,98.5 L383.5,99.3 L383.8,100.2 L384.1,101.1 L384.3,102.0 L384.5,102.9 L384.7,103.8 L384.9,104.7 L385.1,105.6 L385.2,106.5 L385.3,107.4 L385.4,108.3 L385.5,109.2 L385.5,110.1 L385.6,111.0 L385.6,111.8 L385.6,112.7 L385.7,113.6 L385.7,114.5 L385.8,115.4 L385.8,116.3 L385.9,117.2 L386.1,118.1 L386.3,119.0 L386.5,119.9 L386.7,120.8 L387.0,121.7 L387.3,122.6 L387.6,123.4 L388.0,124.3 L388.5,125.2 L389.0,126.1 L389.4,127.0 L389.9,127.9 L390.3,128.8 L390.8,129.7 L391.3,130.6 L391.6,131.5 L391.7,132.4 L391.8,133.3 L391.9,134.2 L391.9,135.0 L391.9,135.9 L391.9,136.8 L391.7,137.7 L391.5,138.6 L391.2,139.5 L390.9,140.4 L390.5,141.3 L390.2,142.2 L389.9,143.1 L389.5,144.0 L389.0,144.9 L388.5,145.8 L388.0,146.6 L387.5,147.5 L387.1,148.4 L386.6,149.3 L386.2,150.2 L385.8,151.1 L385.4,152.0 L385.1,152.9 L384.7,153.8 L384.4,154.7 L384.1,155.6 L383.8,156.5 L383.5,157.4 L383.2,158.2 L383.0,159.1 L382.8,160.0 L382.6,160.9 L382.4,161.8 L382.2,162.7 L382.1,163.6 L381.9,164.5 L381.7,165.4 L381.5,166.3 L381.4,167.2 L381.2,168.1 L381.0,169.0 L380.8,169.9 L380.7,170.7 L380.5,171.6 L380.4,172.5 L380.2,173.4 L380.0,174.3 L379.9,175.2 L379.7,176.1 L379.6,177.0 L379.4,177.9 L379.2,178.8 L379.1,179.7 L378.9,180.6 L378.8,181.5 L378.6,182.3 L378.5,183.2 L378.4,184.1 L378.3,185.0 L378.2,185.9 L378.1,186.8 L378.0,187.7 L377.2,187.7 L377.1,186.8 L377.0,185.9 L376.9,185.0 L376.8,184.1 L376.7,183.2 L376.6,182.3 L376.4,181.5 L376.3,180.6 L376.1,179.7 L376.0,178.8 L375.8,177.9 L375.6,177.0 L375.5,176.1 L375.3,175.2 L375.2,174.3 L375.0,173.4 L374.8,172.5 L374.7,171.6 L374.5,170.7 L374.4,169.9 L374.2,169.0 L374.0,168.1 L373.8,167.2 L373.7,166.3 L373.5,165.4 L373.3,164.5 L373.1,163.6 L373.0,162.7 L372.8,161.8 L372.6,160.9 L372.4,160.0 L372.2,159.1 L372.0,158.2 L371.7,157.4 L371.4,156.5 L371.1,155.6 L370.8,154.7 L370.5,153.8 L370.1,152.9 L369.8,152.0 L369.4,151.1 L369.0,150.2 L368.6,149.3 L368.1,148.4 L367.7,147.5 L367.2,146.6 L366.7,145.8 L366.2,144.9 L365.7,144.0 L365.3,143.1 L365.0,142.2 L364.7,141.3 L364.3,140.4 L364.0,139.5 L363.7,138.6 L363.5,137.7 L363.3,136.8 L363.3,135.9 L363.3,135.0 L363.3,134.2 L363.4,133.3 L363.5,132.4 L363.6,131.5 L363.9,130.6 L364.4,129.7 L364.9,128.8 L365.3,127.9 L365.8,127.0 L366.2,126.1 L366.7,125.2 L367.2,124.3 L367.6,123.4 L367.9,122.6 L368.2,121.7 L368.5,120.8 L368.7,119.9 L368.9,119.0 L369.1,118.1 L369.3,117.2 L369.4,116.3 L369.4,115.4 L369.5,114.5 L369.5,113.6 L369.6,112.7 L369.6,111.8 L369.6,111.0 L369.7,110.1 L369.7,109.2 L369.8,108.3 L369.9,107.4 L370.0,106.5 L370.1,105.6 L370.3,104.7 L370.5,103.8 L370.7,102.9 L370.9,102.0 L371.1,101.1 L371.4,100.2 L371.7,99.3 L372.1,98.5 L372.4,97.6 L372.7,96.7 L373.0,95.8 L373.2,94.9 L373.5,94.0 L373.7,93.1 L374.0,92.2 L374.2,91.3 L374.3,90.4 L374.3,89.5 L374.4,88.6 L374.4,87.7 L374.4,86.9 L374.4,86.0 L374.5,85.1 L374.5,84.2 L374.5,83.3 L374.5,82.4 L374.5,81.5Z" fill="#A8E0FD" stroke="#141c22" stroke-width="0.6" stroke-linejoin="round"/>
<line x1="377.6" x2="377.6" y1="81.3" y2="187.7" stroke="#141c22" stroke-width="0.55"/>
<rect x="376.50" y="107.9" width="2.2" height="26.6" fill="#000"/>
<circle cx="377.6" cy="134.5" r="1.15" fill="#fff"/>
<path d="M416.6,54.8 L416.9,56.1 L417.3,57.5 L417.6,58.8 L418.0,60.2 L418.4,61.5 L418.7,62.8 L419.1,64.2 L419.5,65.5 L419.9,66.9 L420.3,68.2 L420.7,69.5 L421.2,70.9 L421.6,72.2 L422.1,73.6 L422.4,74.9 L422.8,76.2 L423.0,77.6 L423.3,78.9 L423.5,80.3 L423.7,81.6 L423.9,82.9 L424.1,84.3 L424.3,85.6 L424.5,87.0 L424.7,88.3 L424.9,89.6 L425.1,91.0 L425.3,92.3 L425.4,93.7 L425.6,95.0 L425.7,96.4 L425.9,97.7 L426.0,99.0 L426.1,100.4 L426.3,101.7 L426.4,103.1 L426.5,104.4 L426.6,105.7 L426.7,107.1 L426.8,108.4 L426.9,109.8 L427.0,111.1 L427.1,112.4 L427.1,113.8 L427.2,115.1 L427.2,116.5 L427.2,117.8 L427.2,119.1 L427.3,120.5 L427.3,121.8 L427.3,123.2 L427.3,124.5 L427.3,125.8 L427.3,127.2 L427.2,128.5 L427.1,129.9 L427.0,131.2 L426.9,132.5 L426.7,133.9 L426.5,135.2 L426.3,136.6 L425.9,137.9 L425.4,139.2 L424.8,140.6 L424.1,141.9 L423.4,143.3 L422.8,144.6 L422.2,145.9 L421.7,147.3 L421.3,148.6 L420.8,150.0 L420.3,151.3 L419.9,152.6 L419.5,154.0 L419.1,155.3 L418.7,156.7 L418.3,158.0 L418.0,159.3 L417.6,160.7 L417.3,162.0 L417.0,163.4 L416.7,164.7 L416.4,166.0 L416.1,167.4 L415.8,168.7 L415.6,170.1 L415.5,171.4 L415.4,172.7 L415.3,174.1 L415.2,175.4 L415.1,176.8 L415.1,178.1 L415.0,179.5 L414.9,180.8 L414.8,182.1 L414.7,183.5 L414.6,184.8 L414.6,186.2 L414.5,187.5 L414.4,188.8 L414.4,190.2 L414.3,191.5 L414.3,192.9 L414.3,194.2 L414.2,195.5 L414.2,196.9 L414.2,198.2 L414.1,199.6 L414.1,200.9 L414.0,202.2 L414.0,203.6 L414.0,204.9 L413.9,206.3 L413.9,207.6 L413.8,208.9 L413.8,210.3 L413.8,211.6 L413.7,213.0 L413.7,214.3 L412.7,214.3 L412.7,213.0 L412.6,211.6 L412.6,210.3 L412.6,208.9 L412.5,207.6 L412.5,206.3 L412.4,204.9 L412.4,203.6 L412.4,202.2 L412.3,200.9 L412.3,199.6 L412.2,198.2 L412.2,196.9 L412.2,195.5 L412.1,194.2 L412.1,192.9 L412.1,191.5 L412.0,190.2 L412.0,188.8 L411.9,187.5 L411.8,186.2 L411.8,184.8 L411.7,183.5 L411.6,182.1 L411.5,180.8 L411.4,179.5 L411.3,178.1 L411.3,176.8 L411.2,175.4 L411.1,174.1 L411.0,172.7 L410.9,171.4 L410.8,170.1 L410.6,168.7 L410.3,167.4 L410.0,166.0 L409.7,164.7 L409.4,163.4 L409.1,162.0 L408.8,160.7 L408.4,159.3 L408.1,158.0 L407.7,156.7 L407.3,155.3 L406.9,154.0 L406.5,152.6 L406.1,151.3 L405.6,150.0 L405.1,148.6 L404.7,147.3 L404.2,145.9 L403.6,144.6 L403.0,143.3 L402.3,141.9 L401.6,140.6 L401.0,139.2 L400.5,137.9 L400.1,136.6 L399.9,135.2 L399.7,133.9 L399.5,132.5 L399.4,131.2 L399.3,129.9 L399.2,128.5 L399.1,127.2 L399.1,125.8 L399.1,124.5 L399.1,123.2 L399.1,121.8 L399.1,120.5 L399.2,119.1 L399.2,117.8 L399.2,116.5 L399.2,115.1 L399.3,113.8 L399.3,112.4 L399.4,111.1 L399.5,109.8 L399.6,108.4 L399.7,107.1 L399.8,105.7 L399.9,104.4 L400.0,103.1 L400.1,101.7 L400.3,100.4 L400.4,99.0 L400.5,97.7 L400.7,96.4 L400.8,95.0 L401.0,93.7 L401.1,92.3 L401.3,91.0 L401.5,89.6 L401.7,88.3 L401.9,87.0 L402.1,85.6 L402.3,84.3 L402.5,82.9 L402.7,81.6 L402.9,80.3 L403.1,78.9 L403.4,77.6 L403.6,76.2 L404.0,74.9 L404.3,73.6 L404.8,72.2 L405.2,70.9 L405.7,69.5 L406.1,68.2 L406.5,66.9 L406.9,65.5 L407.3,64.2 L407.7,62.8 L408.0,61.5 L408.4,60.2 L408.8,58.8 L409.1,57.5 L409.5,56.1 L409.8,54.8Z" fill="#8BC7FB" stroke="#141c22" stroke-width="0.6" stroke-linejoin="round"/>
<line x1="413.2" x2="413.2" y1="54.7" y2="214.3" stroke="#141c22" stroke-width="0.55"/>
<rect x="412.10" y="81.3" width="2.2" height="53.2" fill="#000"/>
<circle cx="413.2" cy="107.9" r="1.15" fill="#fff"/>
<path d="M453.3,81.5 L453.5,82.6 L453.7,83.7 L453.8,84.8 L454.0,86.0 L454.2,87.1 L454.3,88.2 L454.5,89.3 L454.7,90.4 L454.8,91.5 L455.0,92.7 L455.2,93.8 L455.3,94.9 L455.5,96.0 L455.6,97.1 L455.8,98.2 L455.9,99.4 L456.1,100.5 L456.2,101.6 L456.4,102.7 L456.5,103.8 L456.7,104.9 L456.8,106.1 L457.0,107.2 L457.1,108.3 L457.2,109.4 L457.4,110.5 L457.5,111.6 L457.7,112.7 L457.9,113.9 L458.1,115.0 L458.3,116.1 L458.5,117.2 L458.7,118.3 L458.9,119.4 L459.1,120.6 L459.2,121.7 L459.4,122.8 L459.6,123.9 L459.8,125.0 L459.9,126.1 L460.1,127.3 L460.3,128.4 L460.4,129.5 L460.6,130.6 L460.8,131.7 L460.9,132.8 L461.0,134.0 L461.2,135.1 L461.3,136.2 L461.5,137.3 L461.7,138.4 L461.9,139.5 L462.1,140.6 L462.3,141.8 L462.5,142.9 L462.7,144.0 L462.8,145.1 L462.9,146.2 L463.0,147.3 L463.1,148.5 L463.1,149.6 L463.2,150.7 L463.2,151.8 L463.3,152.9 L463.3,154.0 L463.3,155.2 L463.3,156.3 L463.3,157.4 L463.2,158.5 L463.1,159.6 L463.0,160.7 L462.9,161.8 L462.8,163.0 L462.5,164.1 L462.2,165.2 L461.8,166.3 L461.4,167.4 L461.0,168.5 L460.6,169.7 L460.2,170.8 L459.9,171.9 L459.5,173.0 L459.1,174.1 L458.7,175.2 L458.2,176.4 L457.7,177.5 L457.2,178.6 L456.6,179.7 L456.2,180.8 L455.7,181.9 L455.3,183.1 L454.9,184.2 L454.5,185.3 L454.1,186.4 L453.7,187.5 L453.4,188.6 L453.1,189.7 L452.8,190.9 L452.5,192.0 L452.2,193.1 L451.9,194.2 L451.7,195.3 L451.5,196.4 L451.2,197.6 L451.0,198.7 L450.8,199.8 L450.7,200.9 L450.5,202.0 L450.3,203.1 L450.2,204.3 L450.0,205.4 L449.9,206.5 L449.8,207.6 L449.6,208.7 L449.5,209.8 L449.4,211.0 L449.3,212.1 L449.2,213.2 L449.1,214.3 L448.2,214.3 L448.0,213.2 L447.9,212.1 L447.8,211.0 L447.7,209.8 L447.6,208.7 L447.4,207.6 L447.3,206.5 L447.2,205.4 L447.0,204.3 L446.9,203.1 L446.7,202.0 L446.5,200.9 L446.4,199.8 L446.2,198.7 L446.0,197.6 L445.7,196.4 L445.5,195.3 L445.3,194.2 L445.0,193.1 L444.7,192.0 L444.4,190.9 L444.1,189.7 L443.8,188.6 L443.5,187.5 L443.1,186.4 L442.7,185.3 L442.3,184.2 L441.9,183.1 L441.5,181.9 L441.0,180.8 L440.6,179.7 L440.0,178.6 L439.5,177.5 L439.0,176.4 L438.5,175.2 L438.1,174.1 L437.7,173.0 L437.3,171.9 L437.0,170.8 L436.6,169.7 L436.2,168.5 L435.8,167.4 L435.4,166.3 L435.0,165.2 L434.7,164.1 L434.4,163.0 L434.3,161.8 L434.2,160.7 L434.1,159.6 L434.0,158.5 L433.9,157.4 L433.9,156.3 L433.9,155.2 L433.9,154.0 L433.9,152.9 L434.0,151.8 L434.0,150.7 L434.1,149.6 L434.1,148.5 L434.2,147.3 L434.3,146.2 L434.4,145.1 L434.5,144.0 L434.7,142.9 L434.9,141.8 L435.1,140.6 L435.3,139.5 L435.5,138.4 L435.7,137.3 L435.9,136.2 L436.0,135.1 L436.2,134.0 L436.3,132.8 L436.4,131.7 L436.6,130.6 L436.8,129.5 L436.9,128.4 L437.1,127.3 L437.3,126.1 L437.4,125.0 L437.6,123.9 L437.8,122.8 L438.0,121.7 L438.1,120.6 L438.3,119.4 L438.5,118.3 L438.7,117.2 L438.9,116.1 L439.1,115.0 L439.3,113.9 L439.5,112.7 L439.7,111.6 L439.8,110.5 L440.0,109.4 L440.1,108.3 L440.2,107.2 L440.4,106.1 L440.5,104.9 L440.7,103.8 L440.8,102.7 L441.0,101.6 L441.1,100.5 L441.3,99.4 L441.4,98.2 L441.6,97.1 L441.7,96.0 L441.9,94.9 L442.0,93.8 L442.2,92.7 L442.4,91.5 L442.5,90.4 L442.7,89.3 L442.9,88.2 L443.0,87.1 L443.2,86.0 L443.4,84.8 L443.5,83.7 L443.7,82.6 L443.9,81.5Z" fill="#BEF4FC" stroke="#141c22" stroke-width="0.6" stroke-linejoin="round"/>
<line x1="448.6" x2="448.6" y1="81.3" y2="214.3" stroke="#141c22" stroke-width="0.55"/>
<rect x="447.50" y="107.9" width="2.2" height="53.2" fill="#000"/>
<circle cx="448.6" cy="134.5" r="1.15" fill="#fff"/>
<path d="M489.5,54.8 L490.0,56.1 L490.5,57.5 L491.0,58.8 L491.4,60.2 L491.9,61.5 L492.3,62.8 L492.7,64.2 L493.1,65.5 L493.5,66.9 L493.8,68.2 L494.2,69.5 L494.5,70.9 L494.8,72.2 L495.1,73.6 L495.4,74.9 L495.6,76.2 L495.9,77.6 L496.1,78.9 L496.3,80.3 L496.5,81.6 L496.7,82.9 L496.9,84.3 L497.1,85.6 L497.2,87.0 L497.4,88.3 L497.5,89.6 L497.7,91.0 L497.8,92.3 L497.9,93.7 L498.0,95.0 L498.1,96.4 L498.2,97.7 L498.3,99.0 L498.3,100.4 L498.4,101.7 L498.5,103.1 L498.5,104.4 L498.5,105.7 L498.5,107.1 L498.5,108.4 L498.4,109.8 L498.4,111.1 L498.3,112.4 L498.2,113.8 L498.2,115.1 L498.1,116.5 L498.0,117.8 L497.9,119.1 L497.7,120.5 L497.6,121.8 L497.5,123.2 L497.3,124.5 L497.1,125.8 L496.9,127.2 L496.7,128.5 L496.5,129.9 L496.2,131.2 L495.9,132.5 L495.6,133.9 L495.3,135.2 L495.0,136.6 L494.6,137.9 L494.3,139.2 L493.9,140.6 L493.5,141.9 L493.1,143.3 L492.7,144.6 L492.3,145.9 L491.9,147.3 L491.5,148.6 L491.1,150.0 L490.7,151.3 L490.3,152.6 L490.0,154.0 L489.6,155.3 L489.4,156.7 L489.1,158.0 L488.9,159.3 L488.7,160.7 L488.4,162.0 L488.2,163.4 L488.0,164.7 L487.8,166.0 L487.6,167.4 L487.3,168.7 L487.1,170.1 L486.9,171.4 L486.6,172.7 L486.4,174.1 L486.2,175.4 L486.0,176.8 L485.8,178.1 L485.6,179.5 L485.4,180.8 L485.3,182.1 L485.1,183.5 L484.9,184.8 L484.8,186.2 L484.7,187.5 L484.7,188.8 L484.7,190.2 L484.7,191.5 L484.6,192.9 L484.6,194.2 L484.6,195.5 L484.6,196.9 L484.6,198.2 L484.6,199.6 L484.6,200.9 L484.6,202.2 L484.6,203.6 L484.6,204.9 L484.6,206.3 L484.6,207.6 L484.6,208.9 L484.6,210.3 L484.6,211.6 L484.6,213.0 L484.6,214.3 L483.7,214.3 L483.6,213.0 L483.6,211.6 L483.6,210.3 L483.6,208.9 L483.6,207.6 L483.6,206.3 L483.6,204.9 L483.6,203.6 L483.6,202.2 L483.6,200.9 L483.6,199.6 L483.6,198.2 L483.6,196.9 L483.6,195.5 L483.6,194.2 L483.6,192.9 L483.5,191.5 L483.5,190.2 L483.5,188.8 L483.5,187.5 L483.4,186.2 L483.3,184.8 L483.1,183.5 L482.9,182.1 L482.8,180.8 L482.6,179.5 L482.4,178.1 L482.2,176.8 L482.0,175.4 L481.8,174.1 L481.6,172.7 L481.3,171.4 L481.1,170.1 L480.9,168.7 L480.6,167.4 L480.4,166.0 L480.2,164.7 L480.0,163.4 L479.8,162.0 L479.5,160.7 L479.3,159.3 L479.1,158.0 L478.8,156.7 L478.6,155.3 L478.2,154.0 L477.9,152.6 L477.5,151.3 L477.1,150.0 L476.7,148.6 L476.3,147.3 L475.9,145.9 L475.5,144.6 L475.1,143.3 L474.7,141.9 L474.3,140.6 L473.9,139.2 L473.6,137.9 L473.2,136.6 L472.9,135.2 L472.6,133.9 L472.3,132.5 L472.0,131.2 L471.7,129.9 L471.5,128.5 L471.3,127.2 L471.1,125.8 L470.9,124.5 L470.7,123.2 L470.6,121.8 L470.5,120.5 L470.3,119.1 L470.2,117.8 L470.1,116.5 L470.0,115.1 L470.0,113.8 L469.9,112.4 L469.8,111.1 L469.8,109.8 L469.7,108.4 L469.7,107.1 L469.7,105.7 L469.7,104.4 L469.7,103.1 L469.8,101.7 L469.9,100.4 L469.9,99.0 L470.0,97.7 L470.1,96.4 L470.2,95.0 L470.3,93.7 L470.4,92.3 L470.5,91.0 L470.7,89.6 L470.8,88.3 L471.0,87.0 L471.1,85.6 L471.3,84.3 L471.5,82.9 L471.7,81.6 L471.9,80.3 L472.1,78.9 L472.3,77.6 L472.6,76.2 L472.8,74.9 L473.1,73.6 L473.4,72.2 L473.7,70.9 L474.0,69.5 L474.4,68.2 L474.7,66.9 L475.1,65.5 L475.5,64.2 L475.9,62.8 L476.3,61.5 L476.8,60.2 L477.2,58.8 L477.7,57.5 L478.2,56.1 L478.7,54.8Z" fill="#A8E0FD" stroke="#141c22" stroke-width="0.6" stroke-linejoin="round"/>
<line x1="484.1" x2="484.1" y1="54.7" y2="214.3" stroke="#141c22" stroke-width="0.55"/>
<rect x="483.00" y="81.3" width="2.2" height="53.2" fill="#000"/>
<circle cx="484.1" cy="107.9" r="1.15" fill="#fff"/>
<path d="M523.8,28.4 L524.3,29.7 L524.8,31.1 L525.3,32.4 L525.8,33.8 L526.3,35.1 L526.7,36.4 L527.1,37.8 L527.5,39.1 L527.9,40.4 L528.3,41.8 L528.7,43.1 L529.1,44.5 L529.4,45.8 L529.8,47.1 L530.1,48.5 L530.4,49.8 L530.7,51.2 L531.0,52.5 L531.2,53.8 L531.4,55.2 L531.7,56.5 L531.9,57.9 L532.1,59.2 L532.3,60.5 L532.5,61.9 L532.6,63.2 L532.8,64.5 L533.0,65.9 L533.1,67.2 L533.2,68.6 L533.4,69.9 L533.5,71.2 L533.7,72.6 L533.7,73.9 L533.8,75.3 L533.8,76.6 L533.8,77.9 L533.8,79.3 L533.8,80.6 L533.8,81.9 L533.8,83.3 L533.8,84.6 L533.8,86.0 L533.8,87.3 L533.7,88.6 L533.6,90.0 L533.4,91.3 L533.2,92.7 L533.1,94.0 L532.9,95.3 L532.7,96.7 L532.5,98.0 L532.4,99.3 L532.2,100.7 L532.0,102.0 L531.7,103.4 L531.5,104.7 L531.3,106.0 L531.1,107.4 L530.8,108.7 L530.6,110.1 L530.3,111.4 L530.0,112.7 L529.7,114.1 L529.4,115.4 L529.1,116.8 L528.8,118.1 L528.5,119.4 L528.1,120.8 L527.8,122.1 L527.4,123.4 L527.1,124.8 L526.8,126.1 L526.4,127.5 L526.1,128.8 L525.8,130.1 L525.4,131.5 L525.1,132.8 L524.8,134.2 L524.5,135.5 L524.2,136.8 L524.0,138.2 L523.8,139.5 L523.5,140.8 L523.3,142.2 L523.1,143.5 L522.9,144.9 L522.8,146.2 L522.6,147.5 L522.5,148.9 L522.3,150.2 L522.2,151.6 L522.0,152.9 L521.9,154.2 L521.8,155.6 L521.8,156.9 L521.7,158.2 L521.6,159.6 L521.6,160.9 L521.5,162.3 L521.5,163.6 L521.4,164.9 L521.4,166.3 L521.3,167.6 L521.3,169.0 L521.3,170.3 L521.2,171.6 L521.2,173.0 L521.1,174.3 L521.1,175.7 L521.1,177.0 L521.1,178.3 L521.0,179.7 L521.0,181.0 L521.0,182.3 L521.0,183.7 L520.9,185.0 L520.9,186.4 L520.9,187.7 L517.7,187.7 L517.7,186.4 L517.7,185.0 L517.6,183.7 L517.6,182.3 L517.6,181.0 L517.6,179.7 L517.5,178.3 L517.5,177.0 L517.5,175.7 L517.5,174.3 L517.4,173.0 L517.4,171.6 L517.3,170.3 L517.3,169.0 L517.3,167.6 L517.2,166.3 L517.2,164.9 L517.1,163.6 L517.1,162.3 L517.0,160.9 L517.0,159.6 L516.9,158.2 L516.8,156.9 L516.8,155.6 L516.7,154.2 L516.6,152.9 L516.4,151.6 L516.3,150.2 L516.1,148.9 L516.0,147.5 L515.8,146.2 L515.7,144.9 L515.5,143.5 L515.3,142.2 L515.1,140.8 L514.8,139.5 L514.6,138.2 L514.4,136.8 L514.1,135.5 L513.8,134.2 L513.5,132.8 L513.2,131.5 L512.8,130.1 L512.5,128.8 L512.2,127.5 L511.8,126.1 L511.5,124.8 L511.2,123.4 L510.8,122.1 L510.5,120.8 L510.1,119.4 L509.8,118.1 L509.5,116.8 L509.2,115.4 L508.9,114.1 L508.6,112.7 L508.3,111.4 L508.0,110.1 L507.8,108.7 L507.5,107.4 L507.3,106.0 L507.1,104.7 L506.9,103.4 L506.6,102.0 L506.4,100.7 L506.2,99.3 L506.1,98.0 L505.9,96.7 L505.7,95.3 L505.5,94.0 L505.4,92.7 L505.2,91.3 L505.0,90.0 L504.9,88.6 L504.8,87.3 L504.8,86.0 L504.8,84.6 L504.8,83.3 L504.8,81.9 L504.8,80.6 L504.8,79.3 L504.8,77.9 L504.8,76.6 L504.8,75.3 L504.9,73.9 L504.9,72.6 L505.1,71.2 L505.2,69.9 L505.4,68.6 L505.5,67.2 L505.6,65.9 L505.8,64.5 L506.0,63.2 L506.1,61.9 L506.3,60.5 L506.5,59.2 L506.7,57.9 L506.9,56.5 L507.2,55.2 L507.4,53.8 L507.6,52.5 L507.9,51.2 L508.2,49.8 L508.5,48.5 L508.8,47.1 L509.2,45.8 L509.5,44.5 L509.9,43.1 L510.3,41.8 L510.7,40.4 L511.1,39.1 L511.5,37.8 L511.9,36.4 L512.3,35.1 L512.8,33.8 L513.3,32.4 L513.8,31.1 L514.3,29.7 L514.8,28.4Z" fill="#8BC7FB" stroke="#141c22" stroke-width="0.6" stroke-linejoin="round"/>
<line x1="519.3" x2="519.3" y1="28.1" y2="187.7" stroke="#141c22" stroke-width="0.55"/>
<rect x="518.20" y="54.7" width="2.2" height="53.2" fill="#000"/>
<circle cx="519.3" cy="81.3" r="1.15" fill="#fff"/>
<line x1="313.0" x2="316.0" y1="214.8" y2="214.8" stroke="#444" stroke-width="0.9"/>
<text class="tk" transform="translate(309.5,214.9) rotate(-90) scale(0.72,1.08)" text-anchor="middle">2</text>
<line x1="313.0" x2="316.0" y1="161.6" y2="161.6" stroke="#444" stroke-width="0.9"/>
<text class="tk" transform="translate(309.5,161.7) rotate(-90) scale(0.72,1.08)" text-anchor="middle">4</text>
<line x1="313.0" x2="316.0" y1="108.4" y2="108.4" stroke="#444" stroke-width="0.9"/>
<text class="tk" transform="translate(309.5,108.5) rotate(-90) scale(0.72,1.08)" text-anchor="middle">6</text>
<line x1="313.0" x2="316.0" y1="55.2" y2="55.2" stroke="#444" stroke-width="0.9"/>
<text class="tk" transform="translate(309.5,55.3) rotate(-90) scale(0.72,1.08)" text-anchor="middle">8</text>
<line x1="342.4" x2="342.4" y1="249.9" y2="253.2" stroke="#444" stroke-width="0.8"/>
<text class="tk" x="328.6" y="263.0" textLength="27.6" lengthAdjust="spacingAndGlyphs">0.4ET.Y2022</text>
<line x1="377.6" x2="377.6" y1="249.9" y2="253.2" stroke="#444" stroke-width="0.8"/>
<text class="tk" x="363.8" y="263.0" textLength="27.6" lengthAdjust="spacingAndGlyphs">0.6ET.Y2022</text>
<line x1="413.2" x2="413.2" y1="249.9" y2="253.2" stroke="#444" stroke-width="0.8"/>
<text class="tk" x="399.4" y="263.0" textLength="27.6" lengthAdjust="spacingAndGlyphs">0.8ET.Y2022</text>
<line x1="448.6" x2="448.6" y1="249.9" y2="253.2" stroke="#444" stroke-width="0.8"/>
<text class="tk" x="434.8" y="263.0" textLength="27.6" lengthAdjust="spacingAndGlyphs">0.4ET.Y2023</text>
<line x1="484.1" x2="484.1" y1="249.9" y2="253.2" stroke="#444" stroke-width="0.8"/>
<text class="tk" x="470.3" y="263.0" textLength="27.6" lengthAdjust="spacingAndGlyphs">0.6ET.Y2023</text>
<line x1="519.3" x2="519.3" y1="249.9" y2="253.2" stroke="#444" stroke-width="0.8"/>
<text class="tk" x="505.5" y="263.0" textLength="27.6" lengthAdjust="spacingAndGlyphs">0.8ET.Y2023</text>
<text class="ax" x="405.8" y="276.6" textLength="50.2" lengthAdjust="spacingAndGlyphs">Irrigation : Year</text>
<text class="ti" x="425" y="12.1" text-anchor="middle">B</text>
</svg>
</body></html>
